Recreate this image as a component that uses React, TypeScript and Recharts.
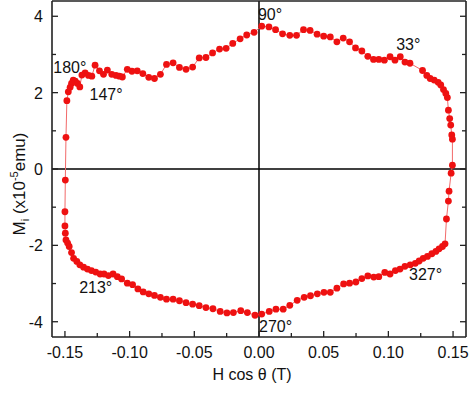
import React from 'react';
import { ScatterChart, Scatter, XAxis, YAxis, ReferenceLine, ReferenceDot } from 'recharts';

const hValues: number[] = [
  0.1438, 0.1449, 0.1464, 0.1469, 0.1485, 0.1495, 0.1495, 0.1490, 0.1482, 0.1474, 0.1464, 0.1456, 0.1444, 0.1426, 0.1405, 0.1385, 0.1354, 0.1323, 0.1297, 0.1264,
  0.1167, 0.1128, 0.1092, 0.1051, 0.1013, 0.0969, 0.0926, 0.0885, 0.0841, 0.0795, 0.0746, 0.0700, 0.0651, 0.0602, 0.0551, 0.0500, 0.0449, 0.0395, 0.0344, 0.0290,
  0.0238, 0.0182, 0.0128, 0.0077, 0.0021, -0.0038, -0.0095, -0.0146, -0.0203, -0.0254, -0.0305, -0.0359, -0.0410, -0.0462, -0.0513, -0.0564, -0.0615, -0.0664, -0.0715, -0.0762,
  -0.0808, -0.0852, -0.0898, -0.0941, -0.0982, -0.1018, -0.1056, -0.1079, -0.1105, -0.1138, -0.1172, -0.1202, -0.1233, -0.1267, -0.1292, -0.1318, -0.1344, -0.1369, -0.1385, -0.1403,
  -0.1420, -0.1436, -0.1449, -0.1460, -0.1474, -0.1485, -0.1492, -0.1497, -0.1500, -0.1500, -0.1497, -0.1492, -0.1479, -0.1467, -0.1449, -0.1433, -0.1408, -0.1385, -0.1356, -0.1326,
  -0.1295, -0.1262, -0.1228, -0.1198, -0.1164, -0.1128, -0.1095, -0.1062, -0.1018, -0.0977, -0.0936, -0.0895, -0.0852, -0.0808, -0.0762, -0.0715, -0.0664, -0.0615, -0.0564, -0.0513,
  -0.0462, -0.0410, -0.0356, -0.0300, -0.0248, -0.0198, -0.0141, -0.0090, -0.0031, 0.0021, 0.0079, 0.0131, 0.0187, 0.0238, 0.0295, 0.0349, 0.0398, 0.0451, 0.0502, 0.0551,
  0.0602, 0.0654, 0.0700, 0.0749, 0.0795, 0.0841, 0.0887, 0.0926, 0.0972, 0.1013, 0.1054, 0.1090, 0.1128, 0.1169, 0.1208, 0.1238, 0.1269, 0.1302, 0.1336, 0.1367,
  0.1392, 0.1418,
];

const mValues: number[] = [
  -1.96, -1.31, -0.84, -0.58, -0.11, 0.10, 0.78, 0.89, 1.15, 1.32, 1.54, 1.87, 1.98, 2.08, 2.20, 2.27, 2.33, 2.37, 2.45, 2.58,
  2.77, 2.80, 2.94, 2.85, 2.94, 2.85, 2.87, 2.87, 2.95, 3.09, 3.17, 3.33, 3.43, 3.33, 3.46, 3.48, 3.53, 3.63, 3.65, 3.50,
  3.50, 3.54, 3.65, 3.72, 3.74, 3.58, 3.51, 3.41, 3.29, 3.16, 3.14, 3.04, 2.92, 2.91, 2.67, 2.61, 2.66, 2.78, 2.74, 2.48,
  2.37, 2.40, 2.50, 2.57, 2.56, 2.61, 2.41, 2.43, 2.45, 2.48, 2.59, 2.48, 2.57, 2.72, 2.43, 2.45, 2.52, 2.46, 2.15, 2.24,
  2.30, 2.33, 2.24, 2.14, 2.02, 1.79, 0.83, -0.29, -1.12, -1.49, -1.68, -1.86, -1.94, -2.03, -2.19, -2.34, -2.42, -2.51, -2.57, -2.62,
  -2.66, -2.70, -2.75, -2.75, -2.79, -2.75, -2.82, -2.88, -2.99, -3.03, -3.14, -3.22, -3.27, -3.31, -3.36, -3.41, -3.41, -3.45, -3.50, -3.54,
  -3.58, -3.63, -3.66, -3.73, -3.77, -3.76, -3.71, -3.76, -3.83, -3.80, -3.73, -3.67, -3.67, -3.57, -3.44, -3.36, -3.32, -3.27, -3.23, -3.23,
  -3.12, -3.01, -2.99, -2.96, -2.87, -2.80, -2.83, -2.82, -2.71, -2.75, -2.66, -2.62, -2.55, -2.51, -2.47, -2.41, -2.34, -2.29, -2.22, -2.16,
  -2.09, -2.03,
];

const xTicks: number[] = [-0.15, -0.125, -0.1, -0.075, -0.05, -0.025, 0, 0.025, 0.05, 0.075, 0.1, 0.125, 0.15];
const xTickLabels: string[] = ['-0.15', '', '-0.10', '', '-0.05', '', '0.00', '', '0.05', '', '0.10', '', '0.15'];
const yTicks: number[] = [-4, -3, -2, -1, 0, 1, 2, 3, 4];
const yTickLabels: string[] = ['-4', '', '-2', '', '0', '', '2', '', '4'];

const angleLabels: string[] = ['90°', '33°', '180°', '147°', '213°', '270°', '327°'];
const angleLabelH: number[] = [-0.0008, 0.106, -0.159, -0.131, -0.139, 0.0, 0.116];
const angleLabelM: number[] = [3.90, 3.11, 2.51, 1.80, -3.24, -4.26, -2.90];

const data = hValues.map((h, i) => ({ h, m: mValues[i] }));

const FONT = 'Arial, "Liberation Sans", Helvetica, sans-serif';
const AXIS = '#222';
const RED = '#ee1111';

const xLabelOf = (v: number) => {
  const i = xTicks.findIndex((t) => Math.abs(t - v) < 1e-6);
  return i >= 0 ? xTickLabels[i] : '';
};
const yLabelOf = (v: number) => {
  const i = yTicks.findIndex((t) => Math.abs(t - v) < 1e-6);
  return i >= 0 ? yTickLabels[i] : '';
};

const BottomTick = (props: any) => {
  const { x, y, payload } = props;
  const lab = xLabelOf(payload.value);
  const len = lab ? 6 : 4;
  return (
    <g>
      <line x1={x} x2={x} y1={y} y2={y - len} stroke={AXIS} strokeWidth={1.3} />
      {lab && (
        <text x={x} y={y + 21} textAnchor="middle" fontSize={16} fontFamily={FONT} fill="#111">
          {lab}
        </text>
      )}
    </g>
  );
};

const TopTick = (props: any) => {
  const { x, y, payload } = props;
  const len = xLabelOf(payload.value) ? 6 : 4;
  return <line x1={x} x2={x} y1={y} y2={y + len} stroke={AXIS} strokeWidth={1.3} />;
};

const LeftTick = (props: any) => {
  const { x, y, payload } = props;
  const lab = yLabelOf(payload.value);
  const len = lab ? 6 : 4;
  return (
    <g>
      <line x1={x} x2={x + len} y1={y} y2={y} stroke={AXIS} strokeWidth={1.3} />
      {lab && (
        <text x={x - 9} y={y + 6} textAnchor="end" fontSize={16} fontFamily={FONT} fill="#111">
          {lab}
        </text>
      )}
    </g>
  );
};

const RightTick = (props: any) => {
  const { x, y, payload } = props;
  const len = yLabelOf(payload.value) ? 6 : 4;
  return <line x1={x} x2={x - len} y1={y} y2={y} stroke={AXIS} strokeWidth={1.3} />;
};

const YTitle = () => (
  <text transform="translate(25,184) rotate(-90)" textAnchor="middle" fontSize={17} fontFamily={FONT} fill="#111">
    <tspan>M</tspan>
    <tspan fontSize={11} dy={4}>i</tspan>
    <tspan dy={-4}> (x10</tspan>
    <tspan fontSize={11} dy={-7}>-5</tspan>
    <tspan dy={7}>emu)</tspan>
  </text>
);

const XTitle = () => (
  <text x={252} y={380} textAnchor="middle" fontSize={16} fontFamily={FONT} fill="#111">
    H cos θ (T)
  </text>
);

export default function App() {
  return (
    <div style={{ position: 'absolute', left: 0, top: 0, background: '#fff' }}>
      <ScatterChart width={474} height={393} margin={{ top: 0, right: 7, bottom: 55, left: 51 }}>
        <XAxis
          xAxisId="b"
          dataKey="h"
          type="number"
          orientation="bottom"
          domain={[-0.16, 0.16]}
          ticks={xTicks}
          interval={0}
          height={1}
          tickSize={0}
          tickMargin={0}
          tickLine={false}
          tick={<BottomTick />}
          axisLine={{ stroke: AXIS, strokeWidth: 1.6 }}
          allowDataOverflow
          label={{ content: () => <XTitle /> }}
        />
        <XAxis
          xAxisId="t"
          type="number"
          orientation="top"
          domain={[-0.16, 0.16]}
          ticks={xTicks}
          interval={0}
          height={1}
          tickSize={0}
          tickMargin={0}
          tickLine={false}
          tick={<TopTick />}
          axisLine={{ stroke: AXIS, strokeWidth: 1.6 }}
          allowDataOverflow
        />
        <YAxis
          yAxisId="l"
          dataKey="m"
          type="number"
          orientation="left"
          domain={[-4.4, 4.4]}
          ticks={yTicks}
          interval={0}
          width={1}
          tickSize={0}
          tickMargin={0}
          tickLine={false}
          tick={<LeftTick />}
          axisLine={{ stroke: AXIS, strokeWidth: 1.6 }}
          allowDataOverflow
          label={{ content: () => <YTitle /> }}
        />
        <YAxis
          yAxisId="r"
          type="number"
          orientation="right"
          domain={[-4.4, 4.4]}
          ticks={yTicks}
          interval={0}
          width={1}
          tickSize={0}
          tickMargin={0}
          tickLine={false}
          tick={<RightTick />}
          axisLine={{ stroke: AXIS, strokeWidth: 1.6 }}
          allowDataOverflow
        />
        <ReferenceLine xAxisId="b" yAxisId="l" x={0} stroke="#000" strokeWidth={1.5} />
        <ReferenceLine xAxisId="b" yAxisId="l" y={0} stroke="#000" strokeWidth={1.5} />
        <Scatter
          xAxisId="b"
          yAxisId="l"
          data={data}
          fill={RED}
          line={{ stroke: '#f26a6a', strokeWidth: 1 }}
          lineType="joint"
          shape={(p: any) => <circle cx={p.cx} cy={p.cy} r={3.4} fill={RED} />}
          isAnimationActive={false}
        />
        {angleLabels.map((t, i) => (
          <ReferenceDot
            key={t}
            xAxisId="b"
            yAxisId="l"
            x={angleLabelH[i]}
            y={angleLabelM[i]}
            r={0}
            ifOverflow="visible"
            stroke="none"
            fill="none"
            label={{
              content: (lp: any) => (
                <text x={lp.viewBox.x} y={lp.viewBox.y} fontSize={16} fontFamily={FONT} fill="#111">
                  {t}
                </text>
              ),
            }}
          />
        ))}
      </ScatterChart>
    </div>
  );
}
